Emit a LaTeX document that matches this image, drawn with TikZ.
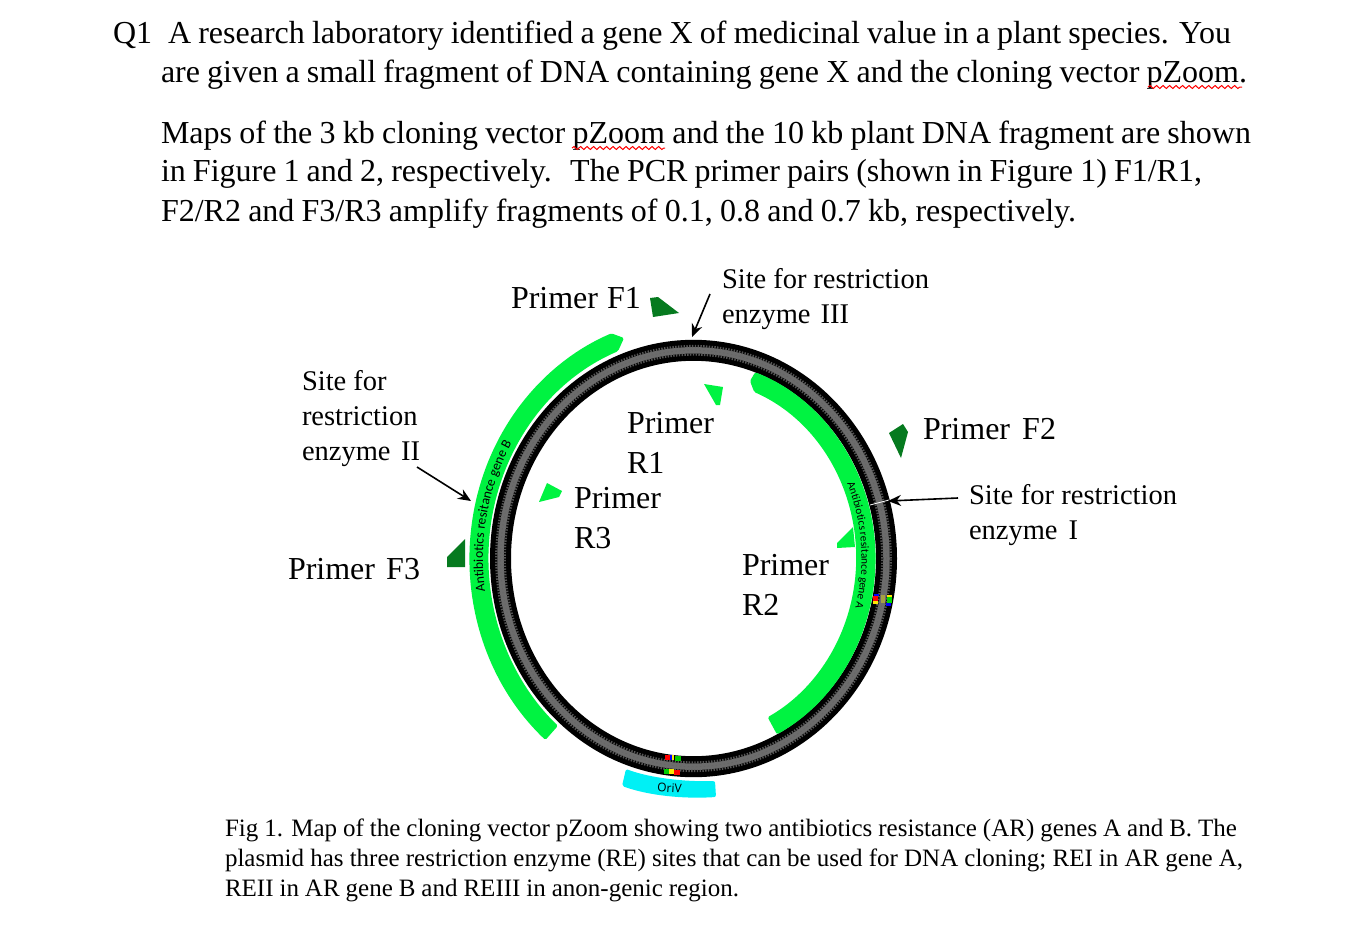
\documentclass[tikz,border=0pt]{standalone}
\usepackage{fontspec}
\setmainfont{Liberation Serif}
\newfontfamily\genefont{Carlito}
\newfontfamily\orifont{Open Sans}
\usetikzlibrary{arrows.meta,decorations.text,decorations.pathmorphing}
\definecolor{genegreen}{HTML}{00F341}
\definecolor{darkprimer}{HTML}{067A1F}
\definecolor{oricyan}{HTML}{00F0F5}
\definecolor{ringgray}{HTML}{6C6C6C}
\newcommand{\fittedline}[5]{\node[txt,anchor=base west] (#1) at (#2,-#3) {\makebox[#4pt][s]{#5}};}
\newcommand{\bigtxt}{\fontsize{32}{38}\selectfont}
\newcommand{\midtxt}{\fontsize{28.5}{34}\selectfont}
\newcommand{\captxt}{\fontsize{25}{30}\selectfont}
\tikzset{
  txt/.style={inner sep=0pt,outer sep=0pt},
  pointer/.style={line width=1.6pt,-{Stealth[length=13pt,width=11pt]}},
  wavy/.style={draw=red,line width=1pt,decorate,decoration={snake,segment length=6.5pt,amplitude=1.5pt}},
  gene/.style={fill=genegreen,rounded corners=1.5pt},
  primerdark/.style={fill=darkprimer},
  primerlight/.style={fill=genegreen},
  ringhatch/.style={ringgray!80!black,line width=2.4pt,dash pattern=on 1.4pt off 1.4pt}
}
\begin{document}
\begin{tikzpicture}[x=1pt,y=1pt]
\useasboundingbox (0,0) rectangle (1346,-942);
% heading text
\bigtxt
\node[txt,anchor=base west] (q1) at (113,-44) {Q1};
\fittedline{l1}{168}{44}{1063}{A research laboratory identified a gene X of medicinal value in a plant species. You}
\fittedline{l2}{161}{82}{1086}{are given a small fragment of DNA containing gene X and the cloning vector pZoom.}
\fittedline{l3}{161}{143}{1090}{Maps of the 3 kb cloning vector pZoom and the 10 kb plant DNA fragment are shown}
\fittedline{l4}{161}{181}{1041}{in Figure 1 and 2, respectively.\hspace{8pt} The PCR primer pairs (shown in Figure 1) F1/R1,}
\fittedline{l5}{161}{221}{915}{F2/R2 and F3/R3 amplify fragments of 0.1, 0.8 and 0.7 kb, respectively.}
\draw[wavy] (1148,-87) -- (1242,-87);
\draw[wavy] (572,-148) -- (665,-148);
% plasmid
\begin{scope}[shift={(693.5,-558.5)}]
  \draw[black,line width=21pt] (0,0) ellipse[x radius=193,y radius=208.2];
  \draw[ringgray,line width=6.5pt] (0,0) ellipse[x radius=193,y radius=208.2];
  \draw[ringhatch] (0,0) ellipse[x radius=197.2,y radius=212.4];
  \draw[ringhatch] (0,0) ellipse[x radius=188.8,y radius=204];
  \draw[black!60,line width=0.8pt,dash pattern=on 1.5pt off 2.5pt] (0,0) ellipse[x radius=193,y radius=208.2];
  % gene B
  \fill[gene] (228.6:224pt and 242pt)
     arc[start angle=228.6,end angle=111.5,x radius=224,y radius=242]
     -- (-69.5,220.5) -- (111.6:205pt and 223pt)
     arc[start angle=111.6,end angle=228.6,x radius=205,y radius=223] -- cycle;
  % gene A
  \fill[gene] (-62.7:182pt and 198pt)
     arc[start angle=-62.7,end angle=70.2,x radius=182,y radius=198]
     -- (56.5,177.5) -- (60.7,166.5)
     arc[start angle=68,end angle=-62.8,x radius=163,y radius=179] -- cycle;
  \path[decorate,decoration={text along path,text align=left,
      text={|\genefont\fontsize{13.6}{15}\selectfont|Antibiotics resitance gene B}}]
      (188.4:210.5pt and 228pt) arc[start angle=188.4,end angle=147,x radius=210.5,y radius=228];
  \path[decorate,decoration={text along path,text align=left,
      text={|\genefont\fontsize{11.2}{13}\selectfont|Antibiotics resitance gene A}}]
      (24:168pt and 184pt) arc[start angle=24,end angle=-17,x radius=168,y radius=184];
\end{scope}
% OriV
\fill[oricyan,rounded corners=2pt] (626,-769)
   .. controls (650,-778) and (685,-782) .. (715,-781)
   -- (716,-797)
   .. controls (685,-799) and (650,-796) .. (622,-786) -- cycle;
\node[txt,rotate=-3] (oriv) at (669.5,-788) {\orifont\fontsize{12}{14}\selectfont OriV};
% site marks on the ring
\fill[blue] (873.8,-594) rectangle (878.6,-596);
\fill[red] (873.3,-596) rectangle (878.3,-601);
\fill[yellow!90!orange] (873,-601) rectangle (878,-604);
\fill[yellow!60!black] (880.5,-595) rectangle (885,-603);
\fill[yellow!90!orange] (887,-595) rectangle (892,-597);
\fill[green!85!black] (886.5,-597) rectangle (891.5,-603);
\fill[blue] (886,-603) rectangle (891,-606);
\fill[red] (664.5,-755) rectangle (670,-760);
\fill[blue] (670,-755) rectangle (672,-760);
\fill[yellow!90!orange] (672,-755) rectangle (674,-760);
\fill[green!80!black] (675,-755.5) rectangle (680.5,-760.5);
\fill[green!80!black] (663.5,-769) rectangle (669,-774);
\fill[yellow!90!orange] (669,-769) rectangle (674,-774);
\fill[red] (674,-769.5) rectangle (679.5,-774.5);
\draw[white,line width=0.8pt] (870,-505) -- (889,-500);
% primers
\fill[primerdark] (650,-298) -- (658,-297) -- (679,-313) -- (653,-317) -- cycle;
\fill[primerdark] (889,-433) -- (903,-424) -- (908,-432) -- (901,-458) -- cycle;
\fill[primerdark] (465,-539) -- (465,-567) -- (447,-567) -- (447,-557) -- cycle;
\fill[primerlight] (704,-384) -- (723,-387) -- (720,-405) -- (716,-405) -- cycle;
\fill[primerlight] (547,-483) -- (562,-491) -- (559,-497) -- (539,-502) -- cycle;
\fill[primerlight] (853,-527) -- (855,-547) -- (837,-548) -- (837,-543) -- cycle;
% labels
\fittedline{pf1}{511}{308}{130}{Primer F1}
\fittedline{pf2}{923}{439}{133}{Primer F2}
\fittedline{pf3}{288}{579}{132}{Primer F3}
\node[txt,anchor=base west] (pr1a) at (627,-433) {Primer};
\node[txt,anchor=base west] (pr1b) at (627,-473) {R1};
\node[txt,anchor=base west] (pr3a) at (574,-508) {Primer};
\node[txt,anchor=base west] (pr3b) at (574,-548) {R3};
\node[txt,anchor=base west] (pr2a) at (742,-575) {Primer};
\node[txt,anchor=base west] (pr2b) at (742,-615) {R2};
\midtxt
\fittedline{s3a}{722}{288}{207}{Site for restriction}
\fittedline{s3b}{722}{323}{127}{enzyme III}
\node[txt,anchor=base west] (s2a) at (302,-390) {Site for};
\node[txt,anchor=base west] (s2b) at (302,-425) {restriction};
\fittedline{s2c}{302}{460}{118}{enzyme II}
\fittedline{s1a}{969}{504}{208}{Site for restriction}
\fittedline{s1b}{969}{539}{109}{enzyme I}
% arrows
\coordinate (a3s) at (710,-294); \coordinate (a3e) at (692,-337);
\coordinate (a2s) at (417,-467); \coordinate (a2e) at (471,-501);
\coordinate (a1s) at (958,-498); \coordinate (a1e) at (888,-501);
\draw[pointer] (a3s) -- (a3e);
\draw[pointer] (a2s) -- (a2e);
\draw[pointer] (a1s) -- (a1e);
% caption
\captxt
\fittedline{c1}{225}{836}{1012}{Fig 1. Map of the cloning vector pZoom showing two antibiotics resistance (AR) genes A and B. The}
\fittedline{c2}{225}{866}{1018}{plasmid has three restriction enzyme (RE) sites that can be used for DNA cloning; REI in AR gene A,}
\fittedline{c3}{225}{896}{514}{REII in AR gene B and REIII in anon-genic region.}
\end{tikzpicture}
\end{document}
